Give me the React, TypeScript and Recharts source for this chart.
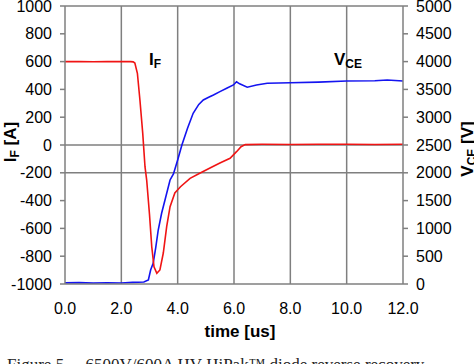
import React from 'react';
import { ComposedChart, Line, XAxis, YAxis, ReferenceLine } from 'recharts';

// I_F trace (left axis, A)
const timeIF = [0, 0.5, 1.0, 1.5, 2.0, 2.33, 2.42, 2.48, 2.57, 2.66, 2.76, 2.84, 2.9, 3.0, 3.08, 3.16, 3.26, 3.37, 3.49, 3.61, 3.73, 3.9, 4.1, 4.44, 4.8, 5.2, 5.5, 5.86, 6.09, 6.25, 6.4, 7, 8, 9, 10, 11, 12];
const currentIF = [600, 601, 599, 601, 600, 600, 598, 590, 516, 324, 84, -156, -252, -500, -732, -876, -923, -899, -777, -588, -444, -345, -300, -240, -201, -160, -130, -96, -48, -12, 3, 5, 4, 5, 5, 4, 5];

// V_CE trace (right axis, V)
const timeVCE = [0, 0.5, 1.0, 1.5, 2.0, 2.4, 2.8, 2.96, 3.04, 3.13, 3.22, 3.31, 3.43, 3.55, 3.73, 3.85, 4.0, 4.15, 4.35, 4.55, 4.75, 4.91, 5.1, 5.27, 5.5, 5.74, 5.98, 6.09, 6.2, 6.47, 6.8, 7.18, 8.0, 9.0, 10.0, 11.0, 11.44, 12];
const voltageVCE = [20, 25, 15, 22, 18, 30, 35, 72, 252, 372, 650, 971, 1272, 1511, 1871, 1980, 2230, 2500, 2800, 3070, 3230, 3310, 3360, 3400, 3460, 3520, 3580, 3638, 3600, 3540, 3580, 3610, 3620, 3630, 3650, 3655, 3670, 3650];

const timeTicks = [0, 2, 4, 6, 8, 10, 12];
const currentTicks = [-1000, -800, -600, -400, -200, 0, 200, 400, 600, 800, 1000];
const voltageTicks = [0, 500, 1000, 1500, 2000, 2500, 3000, 3500, 4000, 4500, 5000];
const gridTimes = [2, 4, 6, 8, 10];
const gridCurrents = [0, -200, 1000];

const ifData = timeIF.map((t, i) => ({ t, v: currentIF[i] }));
const vceData = timeVCE.map((t, i) => ({ t, v: voltageVCE[i] }));

const GRID = '#7f7f7f';
const font = '"Liberation Sans", Arial, sans-serif';

export default function App() {
  return (
    <div style={{ position: 'absolute', left: 0, top: 0, width: 474, height: 364, background: '#fff', fontFamily: font, overflow: 'hidden' }}>
      <ComposedChart width={474} height={364} margin={{ top: 6, right: 0, left: 0, bottom: 0 }}>
        <XAxis
          type="number"
          dataKey="t"
          domain={[0, 12]}
          ticks={timeTicks}
          tickFormatter={(v) => v.toFixed(1)}
          height={80}
          tickLine={false}
          tickSize={0}
          tickMargin={19}
          axisLine={{ stroke: GRID, strokeWidth: 1.5 }}
          tick={{ fill: '#000', fontSize: 16 }}
          allowDuplicatedCategory={false}
        />
        <YAxis
          yAxisId="left"
          type="number"
          domain={[-1000, 1000]}
          ticks={currentTicks}
          width={65}
          tickSize={5}
          tickMargin={8}
          axisLine={{ stroke: GRID, strokeWidth: 1.5 }}
          tickLine={{ stroke: GRID, strokeWidth: 1.5 }}
          tick={{ fill: '#000', fontSize: 16 }}
          interval={0}
        />
        <YAxis
          yAxisId="right"
          orientation="right"
          type="number"
          domain={[0, 5000]}
          ticks={voltageTicks}
          width={71}
          tickSize={5}
          tickMargin={8}
          axisLine={{ stroke: GRID, strokeWidth: 1.5 }}
          tickLine={{ stroke: GRID, strokeWidth: 1.5 }}
          tick={{ fill: '#000', fontSize: 16, textAnchor: 'start' }}
          interval={0}
        />
        {gridTimes.map((x) => (
          <ReferenceLine key={'x' + x} x={x} yAxisId="left" stroke={GRID} strokeWidth={1.5} />
        ))}
        {gridCurrents.map((y) => (
          <ReferenceLine key={'y' + y} y={y} yAxisId="left" stroke={GRID} strokeWidth={1.5} />
        ))}
        <Line
          data={vceData}
          dataKey="v"
          yAxisId="right"
          type="linear"
          stroke="#1414f0"
          strokeWidth={1.6}
          dot={false}
          activeDot={false}
          isAnimationActive={false}
        />
        <Line
          data={ifData}
          dataKey="v"
          yAxisId="left"
          type="linear"
          stroke="#f01414"
          strokeWidth={1.6}
          dot={false}
          activeDot={false}
          isAnimationActive={false}
        />
      </ComposedChart>

      {/* axis titles, annotations and caption */}
      <svg width={474} height={364} style={{ position: 'absolute', left: 0, top: 0, pointerEvents: 'none' }}>
        <text x={16} y={142} transform="rotate(-90 16 142)" textAnchor="middle" fontWeight="bold" fontSize={17} fill="#000">
          I<tspan fontSize={12} dy={3}>F</tspan><tspan dy={-3}> [A]</tspan>
        </text>
        <text x={473} y={149} transform="rotate(-90 473 149)" textAnchor="middle" fontWeight="bold" fontSize={17} fill="#000">
          V<tspan fontSize={12} dy={3}>CE</tspan><tspan dy={-3}> [V]</tspan>
        </text>
        <text x={240} y={337} textAnchor="middle" fontWeight="bold" fontSize={17} fill="#000">time [us]</text>
        <text x={149} y={65} fontWeight="bold" fontSize={17} fill="#000">
          I<tspan fontSize={12} dy={3}>F</tspan>
        </text>
        <text x={334} y={65} fontWeight="bold" fontSize={17} fill="#000">
          V<tspan fontSize={12} dy={3}>CE</tspan>
        </text>
        <text x={7} y={370} fontFamily='"Liberation Serif", "Times New Roman", serif' fontSize={17} fill="#222" xmlSpace="preserve">
          Figure 5.    6500V/600A HV-HiPak™ diode reverse recovery
        </text>
      </svg>
    </div>
  );
}
